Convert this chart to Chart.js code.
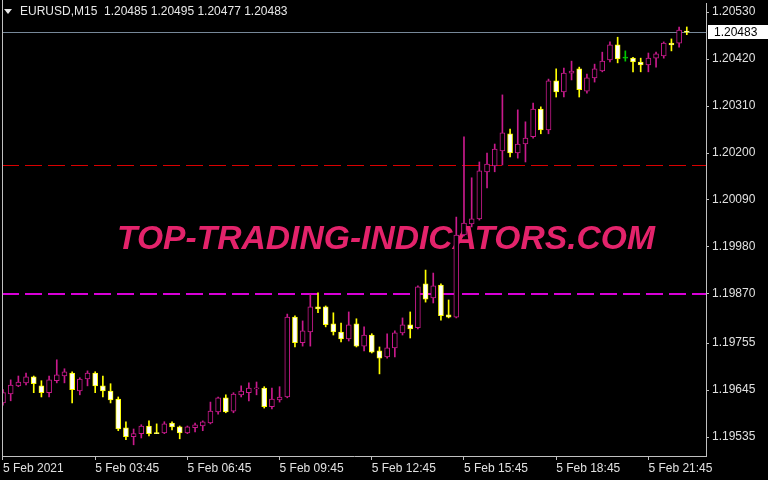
<!DOCTYPE html>
<html>
<head>
<meta charset="utf-8">
<script src="https://cdn.jsdelivr.net/npm/chart.js@4.4.1/dist/chart.umd.min.js"></script>
<style>
    html, body { margin: 0; padding: 0; background: #000; }
    #wrap { width: 768px; height: 480px; }
</style>
</head>
<body>
<div id="wrap"><canvas id="priceChart"></canvas></div>
<script>
const symbol = 'EURUSD,M15';

// M15 candles, 5 Feb 2021 00:45 .. 23:00
const opens = [
    1.19615, 1.19636, 1.19655, 1.19662, 1.19676, 1.19655, 1.19639, 1.19667, 1.19678, 1.19685,
    1.19643, 1.19671, 1.19685, 1.19655, 1.19643, 1.19624, 1.19557, 1.19536, 1.19543, 1.19561,
    1.19545, 1.19545, 1.19568, 1.19559, 1.19545, 1.19557, 1.19561, 1.19568, 1.19594, 1.19627,
    1.19596, 1.19634, 1.19639, 1.19648, 1.19650, 1.19606, 1.19622, 1.19629, 1.19816, 1.19756,
    1.19781, 1.19840, 1.19840, 1.19800, 1.19781, 1.19765, 1.19800, 1.19748, 1.19774, 1.19737,
    1.19723, 1.19744, 1.19779, 1.19798, 1.19791, 1.19894, 1.19861, 1.19891, 1.19821, 1.19816,
    1.20008, 1.20034, 1.20046, 1.20156, 1.20170, 1.20205, 1.20245, 1.20200, 1.20221, 1.20238,
    1.20303, 1.20254, 1.20369, 1.20343, 1.20387, 1.20397, 1.20345, 1.20376, 1.20392, 1.20418,
    1.20453, 1.20422, 1.20422, 1.20413, 1.20406, 1.20422, 1.20427, 1.20457, 1.20457, 1.20485
];
const highs = [
    1.19646, 1.19669, 1.19678, 1.19685, 1.19678, 1.19667, 1.19678, 1.19716, 1.19695, 1.19688,
    1.19674, 1.19690, 1.19688, 1.19678, 1.19660, 1.19629, 1.19571, 1.19554, 1.19564, 1.19573,
    1.19566, 1.19571, 1.19571, 1.19561, 1.19561, 1.19568, 1.19573, 1.19617, 1.19629, 1.19634,
    1.19639, 1.19655, 1.19662, 1.19664, 1.19653, 1.19650, 1.19653, 1.19823, 1.19819, 1.19807,
    1.19870, 1.19873, 1.19842, 1.19826, 1.19802, 1.19828, 1.19812, 1.19793, 1.19777, 1.19746,
    1.19777, 1.19784, 1.19814, 1.19828, 1.19889, 1.19926, 1.19919, 1.19894, 1.19856, 1.20050,
    1.20238, 1.20142, 1.20179, 1.20200, 1.20221, 1.20336, 1.20256, 1.20301, 1.20273, 1.20317,
    1.20308, 1.20373, 1.20397, 1.20399, 1.20415, 1.20401, 1.20385, 1.20408, 1.20436, 1.20460,
    1.20471, 1.20439, 1.20424, 1.20422, 1.20434, 1.20436, 1.20460, 1.20467, 1.20495, 1.20495
];
const lows = [
    1.19610, 1.19620, 1.19653, 1.19657, 1.19639, 1.19629, 1.19629, 1.19662, 1.19662, 1.19615,
    1.19634, 1.19655, 1.19639, 1.19629, 1.19615, 1.19550, 1.19529, 1.19517, 1.19533, 1.19538,
    1.19543, 1.19543, 1.19552, 1.19531, 1.19543, 1.19547, 1.19550, 1.19566, 1.19589, 1.19592,
    1.19592, 1.19629, 1.19620, 1.19634, 1.19603, 1.19601, 1.19617, 1.19627, 1.19746, 1.19748,
    1.19748, 1.19826, 1.19793, 1.19774, 1.19758, 1.19760, 1.19746, 1.19737, 1.19732, 1.19683,
    1.19720, 1.19723, 1.19774, 1.19767, 1.19788, 1.19851, 1.19849, 1.19809, 1.19814, 1.19814,
    1.20006, 1.20027, 1.20043, 1.20118, 1.20156, 1.20172, 1.20191, 1.20188, 1.20179, 1.20235,
    1.20245, 1.20245, 1.20331, 1.20331, 1.20371, 1.20331, 1.20340, 1.20366, 1.20390, 1.20413,
    1.20411, 1.20415, 1.20390, 1.20390, 1.20390, 1.20401, 1.20422, 1.20439, 1.20448, 1.20477
];
const closes = [
    1.19639, 1.19657, 1.19664, 1.19676, 1.19660, 1.19639, 1.19669, 1.19681, 1.19688, 1.19646,
    1.19671, 1.19685, 1.19655, 1.19643, 1.19622, 1.19554, 1.19536, 1.19543, 1.19561, 1.19543,
    1.19543, 1.19566, 1.19559, 1.19545, 1.19559, 1.19564, 1.19571, 1.19596, 1.19627, 1.19594,
    1.19636, 1.19643, 1.19650, 1.19650, 1.19606, 1.19624, 1.19629, 1.19816, 1.19756, 1.19784,
    1.19840, 1.19835, 1.19798, 1.19781, 1.19765, 1.19798, 1.19748, 1.19774, 1.19734, 1.19720,
    1.19744, 1.19779, 1.19798, 1.19788, 1.19887, 1.19858, 1.19889, 1.19819, 1.19816, 1.20008,
    1.20036, 1.20046, 1.20158, 1.20174, 1.20209, 1.20247, 1.20200, 1.20221, 1.20235, 1.20303,
    1.20254, 1.20369, 1.20343, 1.20387, 1.20392, 1.20348, 1.20376, 1.20397, 1.20415, 1.20453,
    1.20420, 1.20422, 1.20413, 1.20406, 1.20422, 1.20432, 1.20457, 1.20453, 1.20488, 1.20483
];

const timeTickIndex = [0, 12, 24, 36, 48, 60, 72, 84];
const timeTickLabels = ['5 Feb 2021', '5 Feb 03:45', '5 Feb 06:45', '5 Feb 09:45',
                        '5 Feb 12:45', '5 Feb 15:45', '5 Feb 18:45', '5 Feb 21:45'];
const priceTicks = [1.19535, 1.19645, 1.19755, 1.19870, 1.19980, 1.20090,
                    1.20200, 1.20310, 1.20420, 1.20530];
const levels = [1.20172, 1.19870];
const watermark = 'TOP-TRADING-INDICATORS.COM';

document.addEventListener('DOMContentLoaded', function () {

    const BULL = '#c81a8c';
    const BEAR = '#ffff00';
    const DOJI = '#00c800';
    const levelColors = ['#d80000', '#d800d8'];
    const levelWidths = [1, 2];
    const FONT = '"Liberation Sans", Arial, sans-serif';
    const last = closes.length - 1;

    function dir(i) {
        if (closes[i] > opens[i]) return 1;
        if (closes[i] < opens[i]) return -1;
        return 0;
    }
    const lineColor = i => dir(i) > 0 ? BULL : dir(i) < 0 ? BEAR : DOJI;
    const fillColor = i => dir(i) > 0 ? '#000000' : dir(i) < 0 ? '#ffffff' : DOJI;

    const wickData = highs.map((h, i) => ({ x: i, y: [lows[i], h] }));
    const bodyData = opens.map((o, i) => ({ x: i, y: [o, closes[i]] }));

    const decor = {
        id: 'decor',
        beforeDraw(chart) {
            const ctx = chart.ctx;
            ctx.save();
            ctx.fillStyle = '#000';
            ctx.fillRect(0, 0, chart.width, chart.height);
            ctx.restore();
        },
        beforeDatasetsDraw(chart) {
            const { ctx, chartArea: a, scales: { y } } = chart;
            ctx.save();
            // watermark
            ctx.font = 'italic bold 33px ' + FONT;
            const w = ctx.measureText(watermark).width;
            ctx.translate(chart.width / 2 + 2, 240);
            ctx.scale(538 / w, 1);
            ctx.fillStyle = '#e3236b';
            ctx.textAlign = 'center';
            ctx.textBaseline = 'middle';
            ctx.fillText(watermark, 0, 0);
            ctx.restore();

            ctx.save();
            ctx.setLineDash([17, 6]);
            levels.forEach((lv, k) => {
                const lw = levelWidths[k];
                const py = Math.round(y.getPixelForValue(lv)) + (lw % 2 ? 0.5 : 0);
                ctx.lineWidth = lw;
                ctx.strokeStyle = levelColors[k];
                ctx.beginPath();
                ctx.moveTo(a.left, py);
                ctx.lineTo(a.right, py);
                ctx.stroke();
            });
            ctx.setLineDash([]);
            // bid line
            const by = Math.round(y.getPixelForValue(closes[last])) + 0.5;
            ctx.lineWidth = 1;
            ctx.strokeStyle = '#778899';
            ctx.beginPath();
            ctx.moveTo(a.left, by);
            ctx.lineTo(a.right, by);
            ctx.stroke();
            ctx.restore();
        },
        afterDraw(chart) {
            const { ctx, chartArea: a, scales: { y } } = chart;
            ctx.save();
            // left frame line
            ctx.strokeStyle = '#c0c0c0';
            ctx.lineWidth = 1;
            ctx.beginPath();
            ctx.moveTo(a.left + 0.5, 0);
            ctx.lineTo(a.left + 0.5, a.bottom);
            ctx.stroke();

            // bid price box
            const by = Math.round(y.getPixelForValue(closes[last]));
            ctx.fillStyle = '#ffffff';
            ctx.fillRect(a.right + 2, by - 7, chart.width - a.right - 2, 14);
            ctx.fillStyle = '#000000';
            ctx.font = '12px ' + FONT;
            ctx.textBaseline = 'middle';
            ctx.fillText(closes[last].toFixed(5), a.right + 8, by + 1);

            // header
            ctx.fillStyle = '#e8e8e8';
            ctx.beginPath();
            ctx.moveTo(4, 9);
            ctx.lineTo(12, 9);
            ctx.lineTo(8, 14);
            ctx.closePath();
            ctx.fill();
            const head = symbol + '  ' + [opens[last], highs[last], lows[last], closes[last]]
                .map(v => v.toFixed(5)).join(' ');
            ctx.fillText(head, 20, 12);
            ctx.restore();
        }
    };

    new Chart(document.getElementById('priceChart'), {
        type: 'bar',
        data: {
            datasets: [
                {
                    label: 'wick',
                    data: wickData,
                    barThickness: 1,
                    grouped: false,
                    order: 2,
                    backgroundColor: c => lineColor(c.dataIndex),
                    borderWidth: 0
                },
                {
                    label: 'body',
                    data: bodyData,
                    barThickness: 5,
                    grouped: false,
                    order: 1,
                    minBarLength: 1,
                    borderSkipped: false,
                    borderWidth: 1,
                    borderColor: c => lineColor(c.dataIndex),
                    backgroundColor: c => fillColor(c.dataIndex)
                }
            ]
        },
        options: {
            responsive: true,
            maintainAspectRatio: false,
            animation: false,
            layout: { padding: { top: 3, left: 2, right: 0, bottom: 0 } },
            plugins: {
                legend: { display: false },
                tooltip: { enabled: false }
            },
            scales: {
                x: {
                    type: 'linear',
                    min: -0.13,
                    max: 91.5,
                    offset: false,
                    afterBuildTicks: s => { s.ticks = timeTickIndex.map(v => ({ value: v })); },
                    afterFit: s => {
                        s.height = 24;
                        s.paddingLeft = 0;
                        s.paddingRight = 0;
                    },
                    grid: { drawOnChartArea: false, offset: false, color: '#c0c0c0', tickLength: 4 },
                    border: { color: '#c0c0c0' },
                    ticks: {
                        autoSkip: false,
                        maxRotation: 0,
                        align: 'start',
                        padding: 1,
                        color: '#e0e0e0',
                        font: { family: FONT, size: 12 },
                        callback: (v, i) => timeTickLabels[i]
                    }
                },
                y: {
                    position: 'right',
                    min: 1.194908,
                    max: 1.205511,
                    afterBuildTicks: s => { s.ticks = priceTicks.map(v => ({ value: v })); },
                    afterFit: s => {
                        s.width = 62;
                        s.paddingTop = 0;
                        s.paddingBottom = 0;
                    },
                    grid: { drawOnChartArea: false, color: '#c0c0c0', tickLength: 3 },
                    border: { color: '#c0c0c0' },
                    ticks: {
                        padding: 3,
                        color: '#e0e0e0',
                        font: { family: FONT, size: 12 },
                        callback: v => Number(v).toFixed(5)
                    }
                }
            }
        },
        plugins: [decor]
    });
});
</script>
</body>
</html>
